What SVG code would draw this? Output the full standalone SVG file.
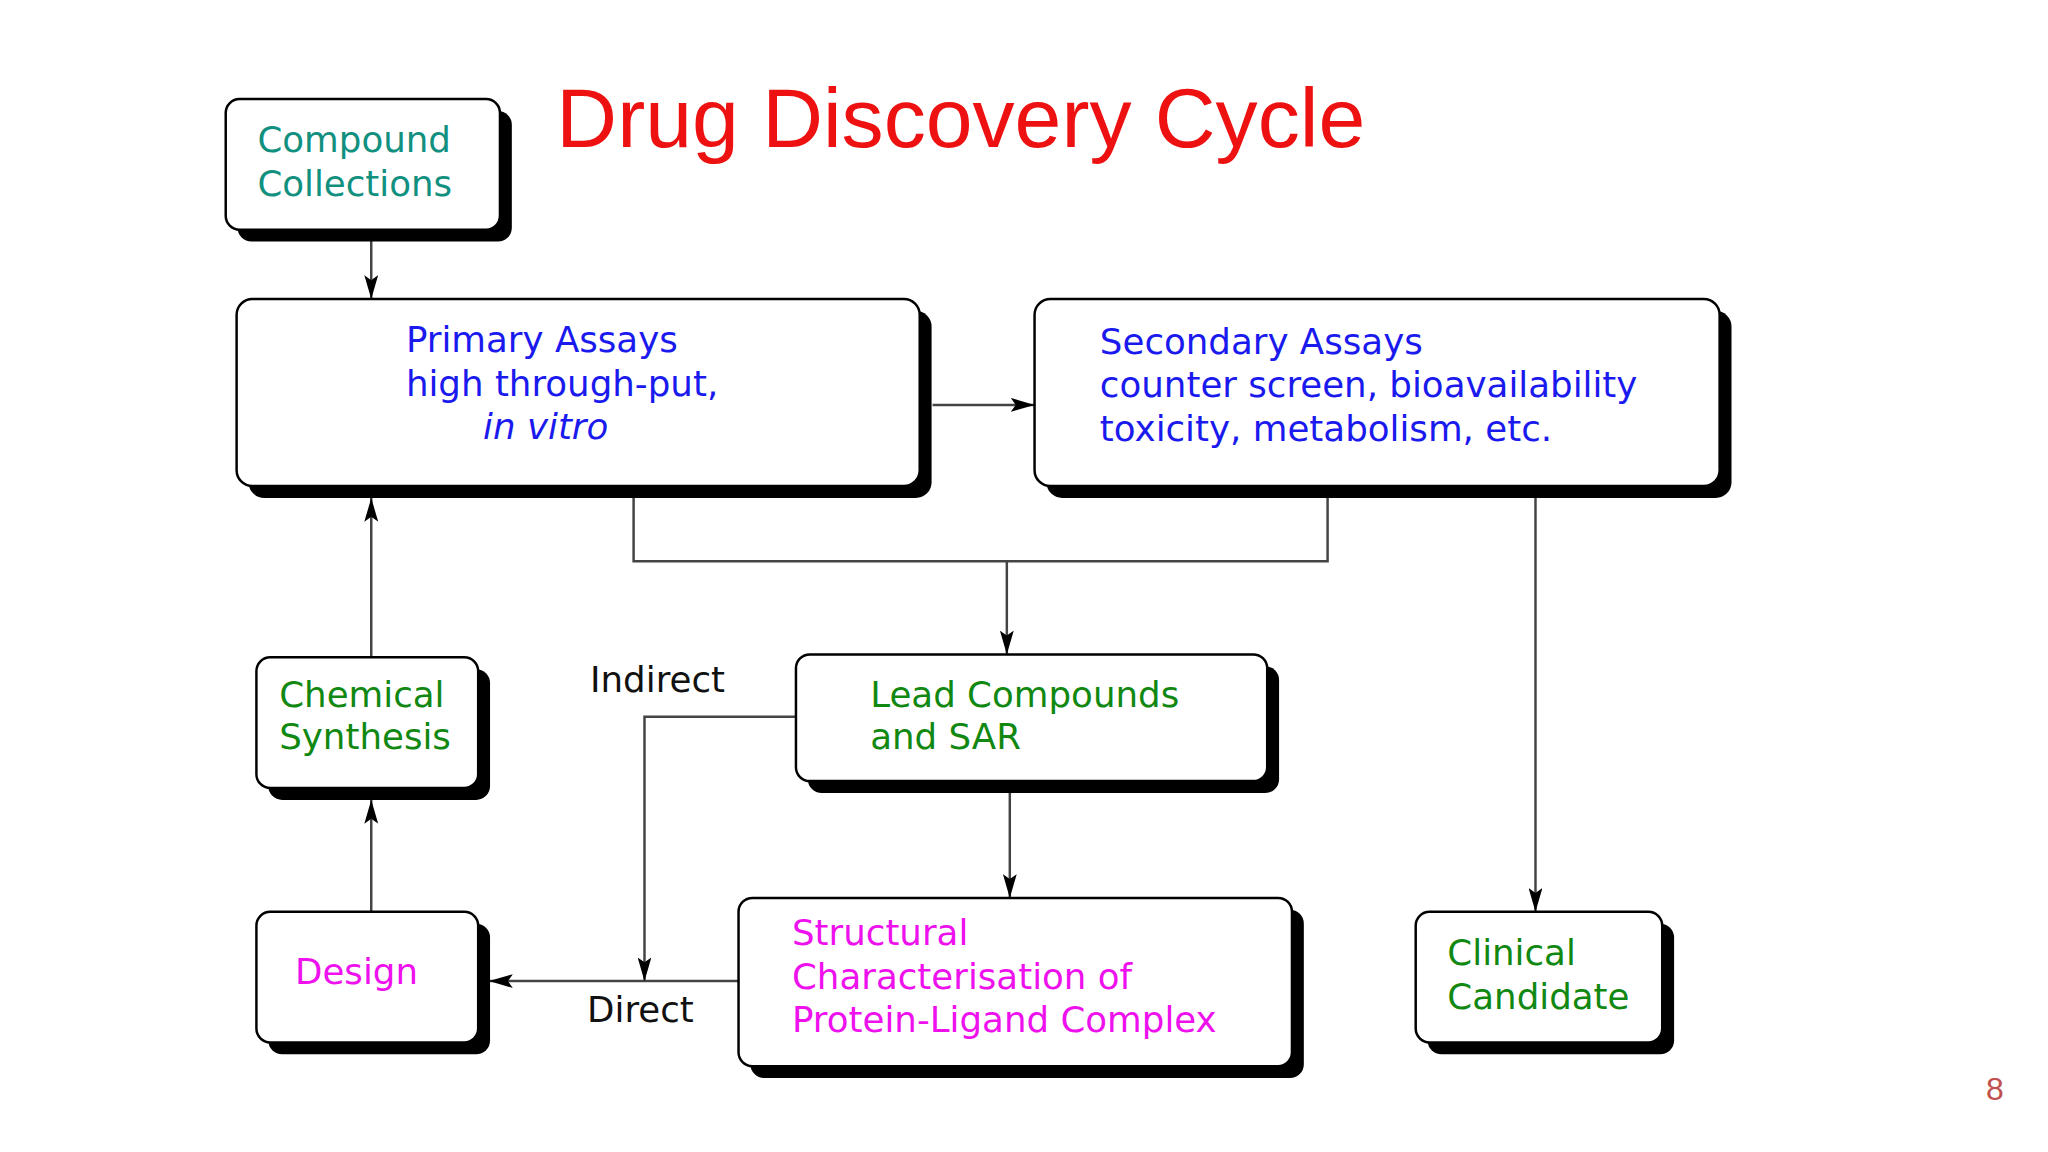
<svg xmlns="http://www.w3.org/2000/svg" width="2048" height="1152" viewBox="0 0 2048 1152">
<defs>
<marker id="ah" markerWidth="24" markerHeight="14" refX="24" refY="7" orient="auto" markerUnits="userSpaceOnUse" viewBox="0 0 24 14"><path d="M0,0 L24,7 L0,14 L5,7 Z" fill="#000"/></marker>
<style>
.box{fill:#fff;stroke:#000;stroke-width:2.5}
.sh{fill:#000}
.t{font-family:"DejaVu Sans",sans-serif;font-size:36px}
.c{fill:none;stroke:#444;stroke-width:2.5}
</style>
</defs>
<rect width="2048" height="1152" fill="#fff"/>
<g transform="scale(0.99)">
<text x="562" y="148" font-family="Liberation Sans, sans-serif" font-size="85" fill="#ee1111">Drug Discovery Cycle</text>
<g id="connectors">
<path class="c" d="M375,232 V302" marker-end="url(#ah)"/>
<path class="c" d="M942,409 H1045" marker-end="url(#ah)"/>
<path class="c" d="M640,503 V567 H1341 V503"/>
<path class="c" d="M1017,567 V661" marker-end="url(#ah)"/>
<path class="c" d="M1020,801 V907" marker-end="url(#ah)"/>
<path class="c" d="M1551,503 V921" marker-end="url(#ah)"/>
<path class="c" d="M375,921 V808" marker-end="url(#ah)"/>
<path class="c" d="M375,664 V503" marker-end="url(#ah)"/>
<path class="c" d="M746,991 H494" marker-end="url(#ah)"/>
<path class="c" d="M804,724 H651 V991" marker-end="url(#ah)"/>
<text x="596" y="699" class="t" font-size="34" fill="#111">Indirect</text>
<text x="593" y="1032" class="t" font-size="34" fill="#111">Direct</text>
</g>
<g id="compound"><rect class="sh" x="240" y="112" width="277" height="132" rx="14"/><rect class="box" x="228" y="100" width="277" height="132" rx="14"/>
<text class="t" fill="#119080"><tspan x="260" y="154">Compound</tspan><tspan x="260" y="198">Collections</tspan></text></g>
<g id="primary"><rect class="sh" x="251" y="314" width="690" height="189" rx="16"/><rect class="box" x="239" y="302" width="690" height="189" rx="16"/>
<text class="t" fill="#1a1aee"><tspan x="410" y="356">Primary Assays</tspan><tspan x="410" y="400">high through-put,</tspan><tspan x="488" y="443" font-style="italic">in vitro</tspan></text></g>
<g id="secondary"><rect class="sh" x="1057" y="314" width="692" height="189" rx="16"/><rect class="box" x="1045" y="302" width="692" height="189" rx="16"/>
<text class="t" fill="#1a1aee"><tspan x="1111" y="358">Secondary Assays</tspan><tspan x="1111" y="401">counter screen, bioavailability</tspan><tspan x="1111" y="445">toxicity, metabolism, etc.</tspan></text></g>
<g id="lead"><rect class="sh" x="816" y="673" width="476" height="128" rx="14"/><rect class="box" x="804" y="661" width="476" height="128" rx="14"/>
<text class="t" fill="#118811"><tspan x="879" y="714">Lead Compounds</tspan><tspan x="879" y="757">and SAR</tspan></text></g>
<g id="structural"><rect class="sh" x="758" y="919" width="559" height="170" rx="14"/><rect class="box" x="746" y="907" width="559" height="170" rx="14"/>
<text class="t" fill="#ee11ee"><tspan x="800" y="955">Structural</tspan><tspan x="800" y="999">Characterisation of</tspan><tspan x="800" y="1042">Protein-Ligand Complex</tspan></text></g>
<g id="clinical"><rect class="sh" x="1442" y="933" width="249" height="132" rx="14"/><rect class="box" x="1430" y="921" width="249" height="132" rx="14"/>
<text class="t" fill="#118811"><tspan x="1462" y="975">Clinical</tspan><tspan x="1462" y="1019">Candidate</tspan></text></g>
<g id="design"><rect class="sh" x="271" y="933" width="224" height="132" rx="14"/><rect class="box" x="259" y="921" width="224" height="132" rx="14"/>
<text class="t" x="298" y="994" fill="#ee11ee">Design</text></g>
<g id="chemical"><rect class="sh" x="271" y="676" width="224" height="132" rx="14"/><rect class="box" x="259" y="664" width="224" height="132" rx="14"/>
<text class="t" fill="#118811"><tspan x="282" y="714">Chemical</tspan><tspan x="282" y="757">Synthesis</tspan></text></g>
</g>
<text x="1986" y="1100" font-family="Liberation Sans, sans-serif" font-size="32" fill="#c0504d">8</text>
</svg>
